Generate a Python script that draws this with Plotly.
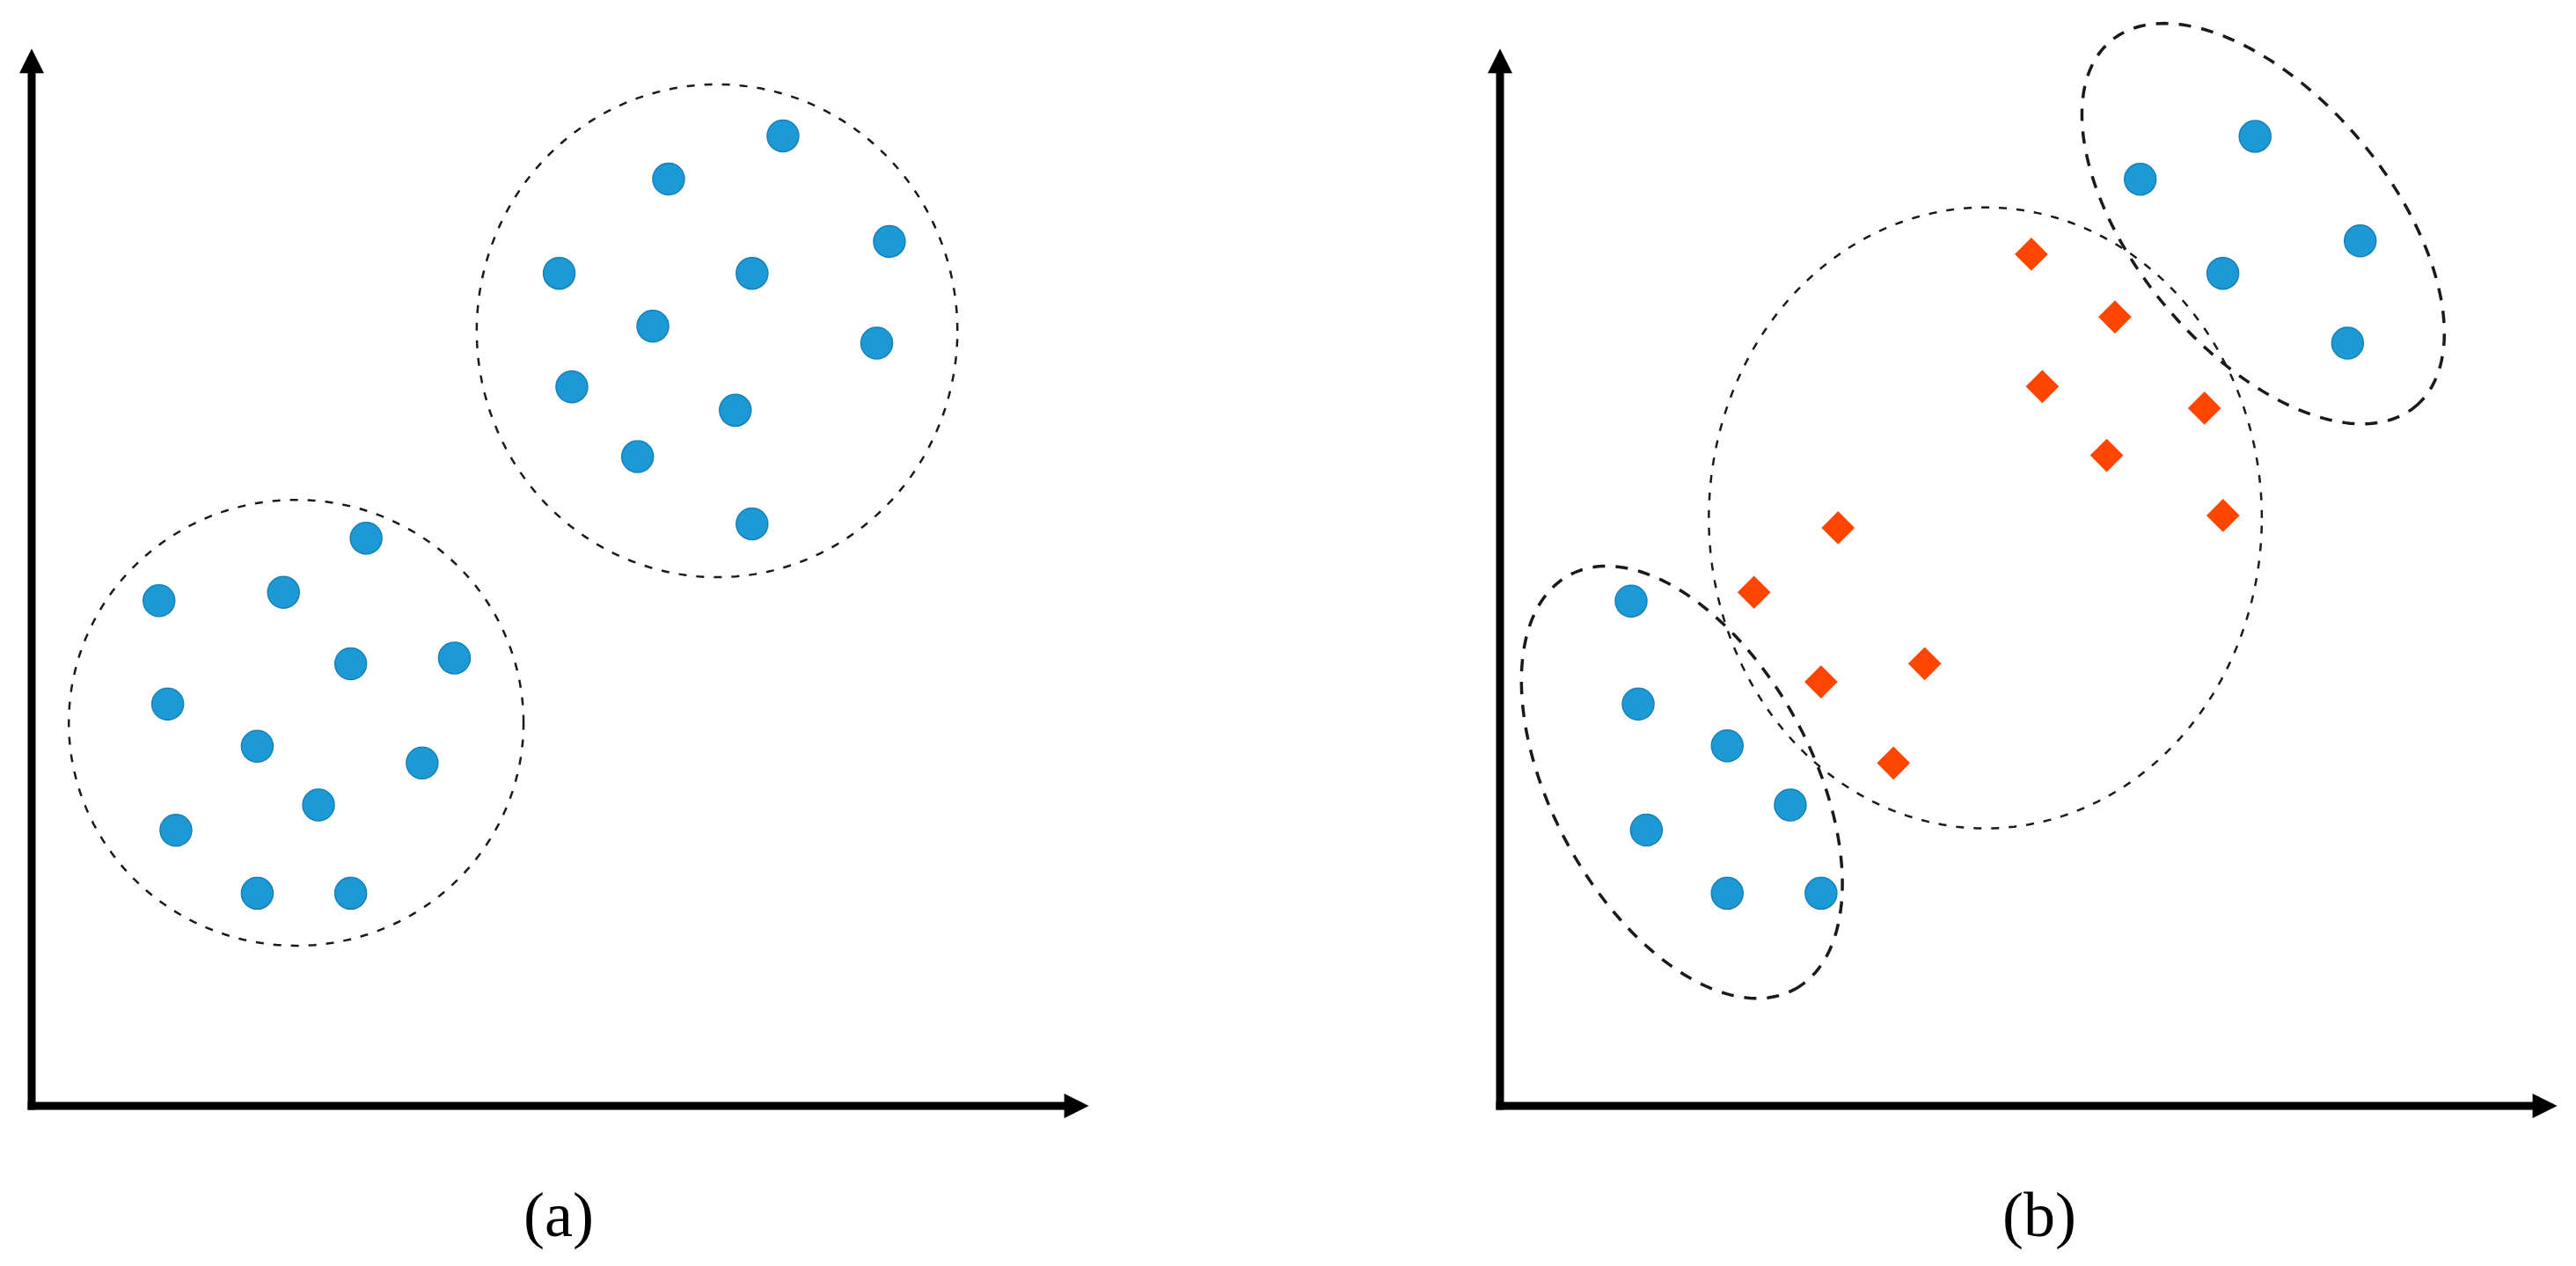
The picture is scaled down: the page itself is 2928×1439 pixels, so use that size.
import numpy as np
import plotly.graph_objects as go

# panel (a): two clusters, blue points
a_low_x = [203.6, 77.5, 153.3, 194.2, 257.3, 82.8, 137.3, 237.7, 174.6, 87.8, 137.3, 194.2]
a_low_y = [345.6, 307.5, 312.6, 269.1, 272.6, 244.6, 218.9, 208.7, 183.1, 167.7, 129.4, 129.4]
a_high_x = [457.3, 387.7, 522.1, 321.1, 438.5, 378.1, 514.4, 328.8, 428.3, 368.8, 438.5]
a_high_y = [590.4, 564.2, 526.2, 506.8, 506.8, 474.6, 464.3, 437.7, 423.4, 395.2, 354.3]

# panel (b): blue points in two corner clusters, red diamonds in the middle one
b_blue_x = [459.6, 389.7, 523.6, 440.0, 515.9, 79.8, 84.1, 138.3, 176.7, 89.1, 138.3, 195.4]
b_blue_y = [590.2, 564.0, 526.5, 506.8, 464.3, 307.3, 244.6, 219.2, 183.1, 167.9, 129.4, 129.4]
b_red_x = [323.4, 374.3, 330.1, 428.8, 369.3, 440.1, 205.8, 154.6, 258.5, 195.4, 239.5]
b_red_y = [518.4, 480.2, 437.9, 424.7, 396.0, 359.4, 351.9, 312.6, 269.2, 258.1, 208.7]

# cluster outlines: centre x, centre y, semi axis 1, semi axis 2, tilt in degrees
a_rings = [(161.0, 233.2, 138.4, 135.7, 0.0), (417.2, 471.8, 146.3, 150.0, 0.0)]
b_rings = [(464.5, 537.0, 144.8, 77.8, -50.2),
           (295.4, 357.9, 168.3, 189.0, 0.0),
           (110.7, 197.0, 143.5, 79.1, -61.4)]
axis_len = 643.5
panel_labels = ['(a)', '(b)']

# page is 2928x1439; the browser puts an 8px body margin round the plot
PAGE_W, PAGE_H, PAD = 2928, 1439, 8
W, H = PAGE_W - 2 * PAD, PAGE_H - 2 * PAD
k = PAGE_W / 1568  # px per data unit
blue = '#1b9ad6'
red = '#ff4500'
label_font = dict(family='Palatino Linotype, Book Antiqua, Palatino, Liberation Serif, serif',
                  size=72, color='black')


def ellipse_path(cx, cy, a, b, deg):
    t = np.linspace(0, 2 * np.pi, 241)
    th = np.radians(deg)
    xs = cx + a * np.cos(t) * np.cos(th) - b * np.sin(t) * np.sin(th)
    ys = cy + a * np.cos(t) * np.sin(th) + b * np.sin(t) * np.cos(th)
    return 'M ' + ' L '.join(f'{x:.2f},{y:.2f}' for x, y in zip(xs, ys)) + ' Z'


fig = go.Figure()

blue_marker = dict(symbol='circle', size=36, color=blue, line=dict(color='#1780bb', width=1.5))
fig.add_trace(go.Scatter(x=a_low_x + a_high_x, y=a_low_y + a_high_y, mode='markers',
                         marker=blue_marker, xaxis='x', yaxis='y'))
fig.add_trace(go.Scatter(x=b_blue_x, y=b_blue_y, mode='markers',
                         marker=blue_marker, xaxis='x2', yaxis='y2'))
fig.add_trace(go.Scatter(x=b_red_x, y=b_red_y, mode='markers',
                         marker=dict(symbol='diamond', size=29, color=red),
                         xaxis='x2', yaxis='y2'))

shapes = []
for cx, cy, a, b, deg in a_rings:
    shapes.append(dict(type='path', path=ellipse_path(cx, cy, a, b, deg), xref='x', yref='y',
                       line=dict(color='#1a1a1a', width=2.5, dash='9px,11px')))
for i, (cx, cy, a, b, deg) in enumerate(b_rings):
    thin = (i == 1)
    shapes.append(dict(type='path', path=ellipse_path(cx, cy, a, b, deg), xref='x2', yref='y2',
                       line=dict(color='#1a1a1a', width=2.5 if thin else 3.5,
                                 dash='9px,11px' if thin else '14px,12px')))

# axis arrows (line + triangle head) for both panels
hl, hw, lw = 15.0, 7.5, 2.4
for xr, yr in [('x', 'y'), ('x2', 'y2')]:
    shapes.append(dict(type='line', xref=xr, yref=yr, x0=-lw, y0=0, x1=axis_len - hl + 1, y1=0,
                       line=dict(color='black', width=9)))
    shapes.append(dict(type='line', xref=xr, yref=yr, x0=0, y0=-lw, x1=0, y1=axis_len - hl + 1,
                       line=dict(color='black', width=9)))
    shapes.append(dict(type='path', xref=xr, yref=yr, fillcolor='black', line=dict(width=0),
                       path=f'M {axis_len},0 L {axis_len - hl},{hw} L {axis_len - hl},{-hw} Z'))
    shapes.append(dict(type='path', xref=xr, yref=yr, fillcolor='black', line=dict(width=0),
                       path=f'M 0,{axis_len} L {hw},{axis_len - hl} L {-hw},{axis_len - hl} Z'))

annotations = [
    dict(text=panel_labels[0], x=320.8, y=-66.2, xref='x', yref='y', showarrow=False, font=label_font),
    dict(text=panel_labels[1], x=328.3, y=-66.2, xref='x2', yref='y2', showarrow=False, font=label_font),
]

# axis origins in figure pixels
ox_a, ox_b, oy = 36 - PAD, 1705 - PAD, 1257 - PAD
half = W / 2
hidden = dict(visible=False, showgrid=False, zeroline=False, fixedrange=True)
fig.update_layout(
    width=W, height=H,
    margin=dict(l=0, r=0, t=0, b=0),
    paper_bgcolor='white', plot_bgcolor='white',
    showlegend=False, hovermode=False,
    xaxis=dict(domain=[0, 0.5], range=[-ox_a / k, (half - ox_a) / k], anchor='y', **hidden),
    xaxis2=dict(domain=[0.5, 1], range=[(half - ox_b) / k, (W - ox_b) / k], anchor='y2', **hidden),
    yaxis=dict(domain=[0, 1], range=[-(H - oy) / k, oy / k], anchor='x', **hidden),
    yaxis2=dict(domain=[0, 1], range=[-(H - oy) / k, oy / k], anchor='x2', **hidden),
    shapes=shapes,
    annotations=annotations,
)

fig.write_html("out.html")
